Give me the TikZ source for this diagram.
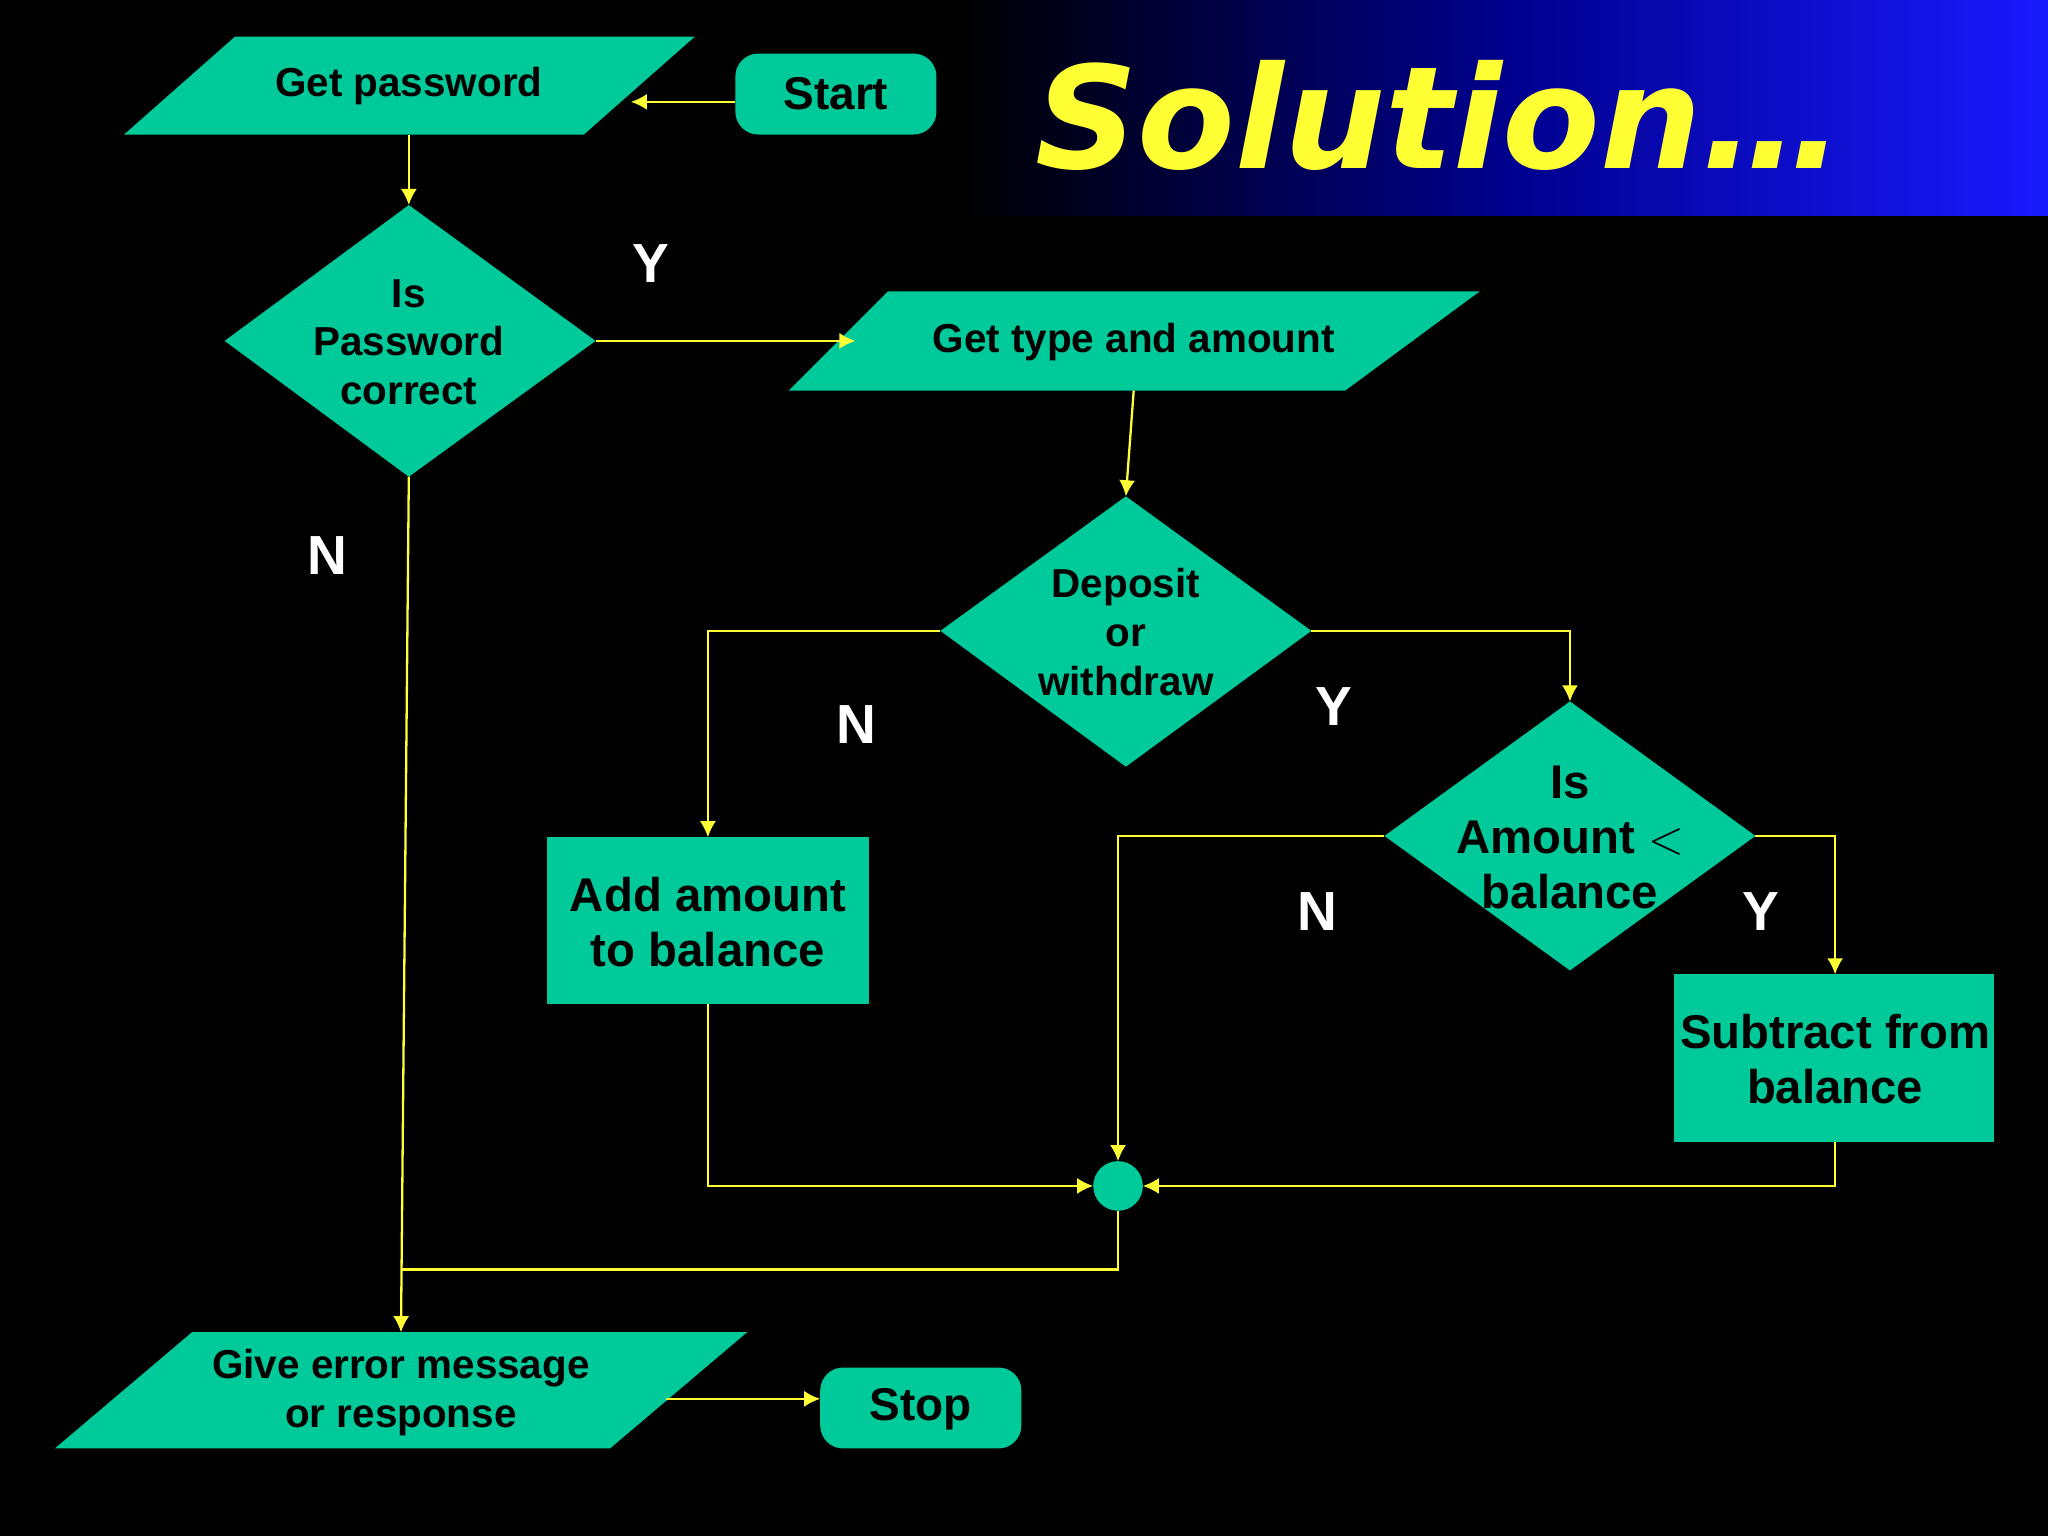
\documentclass[tikz,border=0pt]{standalone}
\usepackage{fontspec}
\setmainfont{Liberation Sans}
\newfontfamily\titlefont{DejaVu Sans}
\usetikzlibrary{arrows.meta}
\definecolor{fillg}{HTML}{00C99A}
\definecolor{ylw}{HTML}{FFFF33}
\begin{document}
\begin{tikzpicture}[x=0.01cm,y=-0.01cm,
  shp/.style={fill=fillg,draw=none},
  lbl/.style={font=\bfseries\fontsize{8.8}{10.6}\selectfont,align=center,text=black},
  big/.style={font=\bfseries\fontsize{10.3}{12}\selectfont,align=center,text=black},
  yn/.style={font=\bfseries\fontsize{12}{14}\selectfont,text=white},
  con/.style={draw=ylw,line width=0.5pt},
  arr/.style={con,-{Latex[length=3.5pt,width=3.5pt]}}]
\fill[black] (0,0) rectangle (1568,1176);
\useasboundingbox (0,0) rectangle (1568,1176);
\shade[left color=black,right color=blue!90!white,middle color=blue!55!black] (730,0) rectangle (1568,165);
\node[font=\titlefont\bfseries\itshape\fontsize{31}{36}\selectfont,text=ylw,anchor=west] (title) at (780,88) {Solution\ldots};
% shapes
\fill[shp] (180,28)--(532,28)--(447,103)--(95,103)--cycle;
\node[lbl] (gp) at (313,66) {Get password};
\fill[shp,rounded corners=5pt] (563,41) rectangle (717,103);
\node[lbl,font=\bfseries\fontsize{10}{12}\selectfont] (start) at (640,72) {Start};
\fill[shp] (313,157)--(456,261)--(313,365)--(172,261)--cycle;
\node[lbl] (d1) at (313,262) {Is\\Password\\correct};
\fill[shp] (680,223)--(1133,223)--(1030,299)--(604,299)--cycle;
\node[lbl] (gt) at (868,262) {Get type and amount};
\fill[shp] (862,380)--(1004,483)--(862,587)--(720,483)--cycle;
\node[lbl] (d2) at (862,484) {Deposit\\or\\withdraw};
\fill[shp] (1202,537)--(1344,640)--(1202,743)--(1060,640)--cycle;
\node[big] (d3) at (1202,641) {Is\\Amount $<$\\balance};
\fill[shp] (419,641) rectangle (665,769);
\node[big] (add) at (542,706) {Add amount\\to balance};
\fill[shp] (1282,746) rectangle (1527,874);
\node[big] (sub) at (1405,811) {Subtract from\\balance};
\fill[shp] (856,908) circle (19);
\fill[shp] (147,1020)--(572,1020)--(467,1109)--(42,1109)--cycle;
\node[lbl] (ge) at (307,1066) {Give error message\\or response};
\fill[shp,rounded corners=5pt] (628,1047) rectangle (782,1109);
\node[lbl,font=\bfseries\fontsize{10}{12}\selectfont] (stop) at (705,1079) {Stop};
% labels
\node[yn] at (498,202) {Y};
\node[yn] at (251,425) {N};
\node[yn] at (656,555) {N};
\node[yn] at (1021,541) {Y};
\node[yn] at (1009,698) {N};
\node[yn] at (1348,698) {Y};
% coordinates
\coordinate (s1) at (563,78); \coordinate (gpe) at (483,78);
\coordinate (gpb) at (313,103); \coordinate (d1t) at (313,157);
\coordinate (d1r) at (456,261); \coordinate (gtl) at (655,261);
\coordinate (d1b) at (313,365); \coordinate (get) at (307,1020);
\coordinate (gtb) at (868,299); \coordinate (d2t) at (862,380);
\coordinate (d2l) at (720,483); \coordinate (addt) at (542,641);
\coordinate (d2r) at (1004,483); \coordinate (d3t) at (1202,537);
\coordinate (d3l) at (1060,640); \coordinate (ct) at (856,889);
\coordinate (d3r) at (1344,640); \coordinate (subt) at (1405,746);
\coordinate (addb) at (542,769); \coordinate (cl) at (837,908);
\coordinate (subb) at (1405,874); \coordinate (cr) at (875,908);
\coordinate (cb) at (856,927); \coordinate (join) at (307.5,972);
\coordinate (ger) at (510,1071); \coordinate (stl) at (628,1071);
% connectors
\draw[arr] (s1)--(gpe);
\draw[arr] (gpb)--(d1t);
\draw[arr] (d1r)--(gtl);
\draw[arr] (d1b)--(get);
\draw[arr] (gtb)--(d2t);
\draw[arr] (d2l)-|(addt);
\draw[arr] (d2r)-|(d3t);
\draw[arr] (d3l)-|(ct);
\draw[arr] (d3r)-|(subt);
\draw[arr] (addb)|-(cl);
\draw[arr] (subb)|-(cr);
\draw[con] (cb)|-(join);
\draw[arr] (ger)--(stl);
\end{tikzpicture}
\end{document}
